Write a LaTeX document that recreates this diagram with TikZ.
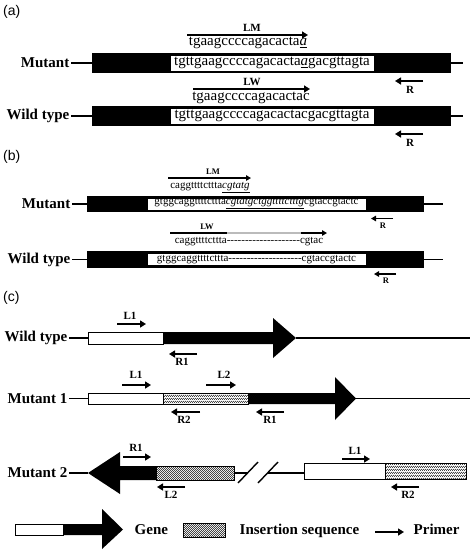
\documentclass[tikz,border=0pt]{standalone}
\usepackage{fontspec}
\setmainfont{Liberation Serif}
\setsansfont{Liberation Sans}
\usepackage{tikz}
\usetikzlibrary{positioning,arrows.meta,calc,patterns.meta}
\definecolor{insGray}{HTML}{444444}
\definecolor{gapGray}{HTML}{BBBBBB}
\newcommand{\gapdashes}[1]{\foreach \k in {1,...,#1}{\mbox{-}}}
\tikzdeclarepattern{
  name=finecheck,
  type=uncolored,
  bounding box={(0pt,0pt) and (2.4pt,2.4pt)},
  tile size={(2.4pt,2.4pt)},
  code={
    \fill (0pt,0pt) rectangle (1.2pt,1.2pt);
    \fill (1.2pt,1.2pt) rectangle (2.4pt,2.4pt);
  }
}
\tikzset{
  panel/.style={anchor=west, inner sep=0pt, font=\sffamily\fontsize{14}{14}\selectfont},
  strain/.style={anchor=east, inner sep=1.5pt, font=\bfseries\fontsize{15}{15}\selectfont},
  tag/.style={inner sep=0pt, font=\bfseries\fontsize{11}{11}\selectfont},
  smalltag/.style={inner sep=0pt, font=\bfseries\fontsize{8.5}{8.5}\selectfont},
  seq/.style={inner sep=0pt, font=\fontsize{15}{15}\selectfont},
  smallseq/.style={inner sep=0pt, font=\fontsize{11}{11}\selectfont},
  bar/.style={fill=black, inner sep=0pt},
  seqbox/.style={draw=black, fill=white, line width=0.6pt, inner sep=0pt},
  primer/.style={line width=2.4pt, -{Triangle[length=6pt,width=7pt]}},
  thinprimer/.style={line width=1.8pt, -{Triangle[length=5pt,width=5.5pt]}},
  dna/.style={line width=1.4pt},
  promoter/.style={draw=black, fill=white, line width=0.8pt},
  ins/.style={draw=black, line width=0.6pt, pattern=finecheck, pattern color=insGray},
}
\begin{document}
\begin{tikzpicture}[x=1pt, y=-1pt]
  \useasboundingbox (0,0) rectangle (474,552);
  % (a) point mutation: primers LM / LW end on the changed base
  \node[panel] (pa) at (3,12) {(a)};
  \foreach \nm/\lbl/\y in {mutA/Mutant/63, wildA/Wild type/116} {
    \node[strain] (\nm lbl) at (71,\y) {\lbl};
    \node[bar, minimum width=359pt, minimum height=20pt] (\nm) at (271.5,\y) {};
    \coordinate (\nm end) at (463,\y);
    \draw[dna] (\nm lbl.east) -- (\nm.west);
    \draw[dna] (\nm.east) -- (\nm end);
    \draw[primer] (423,\y+18) -- (395,\y+18);
    \node[tag] at (410,\y+27) {R};
  }
  \node[seqbox, seq, minimum width=204pt, minimum height=16pt] (mutAseq) at (272,63)
    {tgttgaagccccagacacta\underline{\textit{a}}gacgttagta};
  \node[seqbox, seq, minimum width=204pt, minimum height=16pt] (wildAseq) at (272,116)
    {tgttgaagccccagacactacgacgttagta};
  \node[tag] (LMa) at (252,28) {LM};
  \draw[primer] (187,35) -- (308,35);
  \node[seq] (LMaseq) at (248,43) {tgaagccccagacacta\underline{\textit{a}}};
  \node[tag] (LWa) at (252,82) {LW};
  \draw[primer] (193,89) -- (310,89);
  \node[seq] (LWaseq) at (251,98) {tgaagccccagacactac};

  % (b) insertion: LW spans the deleted stretch
  \node[panel] (pb) at (3,157) {(b)};
  \foreach \nm/\lbl/\y/\r in {mutB/Mutant/204/371, wildB/Wild type/259.5/374} {
    \node[strain] (\nm lbl) at (72,\y) {\lbl};
    \node[bar, minimum width=337pt, minimum height=16.5pt] (\nm) at (255.5,\y) {};
    \coordinate (\nm end) at (443,\y);
    \draw[dna] (\nm lbl.east) -- (\nm.west);
    \draw[dna] (\nm.east) -- (\nm end);
    \draw[thinprimer] (\r+22,\y+14.5) -- (\r,\y+14.5);
    \node[smalltag] at (\r+12,\y+21.5) {R};
  }
  \node[seqbox, smallseq, minimum width=219pt, minimum height=12pt] (mutBseq) at (256.5,204)
    {gtggcaggttttcttta\underline{\textit{cgtatgctggttttctttg}}cgtaccgtactc};
  \node[seqbox, smallseq, minimum width=219pt, minimum height=12pt] (wildBseq) at (256.5,259.5)
    {gtggcaggttttcttta\gapdashes{20}cgtaccgtactc};
  \node[smalltag] (LMb) at (213,172) {LM};
  \draw[thinprimer] (168,178) -- (251,178);
  \node[smallseq] (LMbseq) at (210,188) {caggttttcttta\underline{\textit{cgtatg}}};
  \node[smalltag] (LWb) at (207,227) {LW};
  \draw[line width=1.8pt] (170,233) -- (227,233);
  \draw[draw=gray, line width=0.5pt, double=gapGray, double distance=1.3pt] (227,233) -- (302,233);
  \draw[thinprimer] (301,233) -- (327,233);
  \node[smallseq] (LWbseq) at (249,242) {caggttttcttta\gapdashes{20}cgtac};

  % (c) transposon insertions and primer pairs
  \node[panel] (pc) at (3,298) {(c)};
  % wild type
  \node[strain] (wildClbl) at (69,338) {Wild type};
  \coordinate (wildCtip) at (296,338);
  \coordinate (wildCend) at (470,338);
  \draw[dna] (wildClbl.east) -- (88,338);
  \draw[dna] (wildCtip) -- (wildCend);
  \draw[promoter] (88,332) rectangle (163,344);
  \fill (163,332) -- (273,332) -- (273,318) -- (wildCtip) -- (273,358) -- (273,344) -- (163,344) -- cycle;
  \draw[primer] (117,324) -- (146,324);
  \node[tag] at (130,316) {L1};
  \draw[primer] (197,354) -- (169,354);
  \node[tag] at (182,362) {R1};
  % mutant 1
  \node[strain] (mutClbl) at (69,398.5) {Mutant 1};
  \coordinate (mutCtip) at (356,398.5);
  \coordinate (mutCend) at (470,398.5);
  \draw[dna] (mutClbl.east) -- (88,398.5);
  \draw[dna] (mutCtip) -- (mutCend);
  \draw[promoter] (88,393) rectangle (163,404);
  \draw[ins] (163,393) rectangle (248,404);
  \fill (248,393) -- (335,393) -- (335,377) -- (mutCtip) -- (335,420) -- (335,404) -- (248,404) -- cycle;
  \draw[primer] (122,385) -- (151,385);
  \node[tag] at (136,375) {L1};
  \draw[primer] (206,385) -- (236,385);
  \node[tag] at (224,375) {L2};
  \draw[primer] (200,412) -- (171,412);
  \node[tag] at (184,420) {R2};
  \draw[primer] (284,412) -- (256,412);
  \node[tag] at (270,420) {R1};
  % mutant 2
  \node[strain] (mutDlbl) at (69,473) {Mutant 2};
  \coordinate (mutDtip) at (88,473);
  \draw[dna] (mutDlbl.east) -- (mutDtip);
  \fill (mutDtip) -- (120,452) -- (120,466) -- (156,466) -- (156,480) -- (120,480) -- (120,494) -- cycle;
  \draw[ins] (156,466) rectangle (234,480);
  \draw[dna] (234,473) -- (248,473);
  \draw[dna] (268,473) -- (304,473);
  \draw[line width=1.4pt] (238,483) -- (258,462);
  \draw[line width=1.4pt] (258,483) -- (278,462);
  \draw[promoter] (304,463) rectangle (385,479);
  \draw[ins] (385,463) rectangle (466,479);
  \draw[primer] (123,457) -- (151,457);
  \node[tag] at (136,448) {R1};
  \draw[primer] (185,487) -- (157,487);
  \node[tag] at (171,495) {L2};
  \draw[primer] (342,459) -- (370,459);
  \node[tag] at (355,451) {L1};
  \draw[primer] (419,487) -- (391,487);
  \node[tag] at (408,495) {R2};

  % legend
  \draw[promoter] (15,524) rectangle (63,535);
  \fill (63,524) -- (102,524) -- (102,509) -- (123,529.5) -- (102,549) -- (102,535) -- (63,535) -- cycle;
  \node[strain, anchor=base west] (geneTxt) at (133,534.5) {Gene};
  \draw[ins] (183,523) rectangle (225,537);
  \node[strain, anchor=base west] (insTxt) at (238,534.5) {Insertion sequence};
  \draw[primer] (375,532) -- (404,532);
  \node[strain, anchor=base west] (primerTxt) at (412,534.5) {Primer};
\end{tikzpicture}
\end{document}
